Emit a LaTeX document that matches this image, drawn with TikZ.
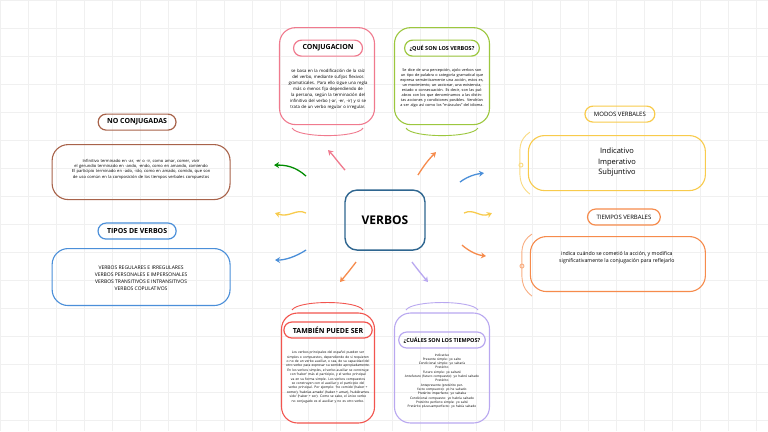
\documentclass[tikz,border=0pt]{standalone}
\usepackage{fontspec}
\setmainfont{Open Sans}
\usetikzlibrary{arrows.meta}
\definecolor{cpink}{HTML}{F07A8E}
\definecolor{cgreen}{HTML}{9CC73E}
\definecolor{cred}{HTML}{F2554F}
\definecolor{cpurp}{HTML}{B9A8F0}
\definecolor{cbrown}{HTML}{A8634A}
\definecolor{cblue}{HTML}{4B8FD9}
\definecolor{cyel}{HTML}{F8CB4C}
\definecolor{corg}{HTML}{F68B4C}
\definecolor{cnavy}{HTML}{2F6690}
\begin{document}
\begin{tikzpicture}[x=1pt,y=-1pt,
  card/.style={draw,line width=1.1pt,rounded corners=16pt,minimum width=#1,align=center},
  pill/.style={draw,line width=1.2pt,rounded corners=8pt,minimum height=16pt,font=\bfseries\fontsize{7}{8}\selectfont,inner xsep=9pt,inner ysep=2pt},
  tiny/.style={font=\fontsize{3.6}{4.6}\selectfont,align=center},
  small/.style={font=\fontsize{5.2}{7}\selectfont,align=center},
  arr/.style={line width=1.3pt,-{Stealth[length=5pt,width=6pt]}},
  brk/.style={line width=0.9pt}]
\fill[white] (0,0) rectangle (768,431);
\foreach \x in {0,28,...,768} \draw[black!6,line width=0.3pt] (\x,0)--(\x,431);
\foreach \y in {0,28,...,431} \draw[black!6,line width=0.3pt] (0,\y)--(768,\y);
\useasboundingbox (0,0) rectangle (768,431);
% center
\node[draw=cnavy,line width=1.4pt,rounded corners=12pt,minimum width=80pt,minimum height=60pt,font=\bfseries\fontsize{12}{14}\selectfont] (c) at (385,220) {VERBOS};
% top boxes
\node[card=95pt,draw=cpink,minimum height=97pt] (conj) at (327,76) {};
\node[pill,draw=cpink] (conjt) at (328,48) {CONJUGACION};
\node[tiny,text width=80pt,font=\fontsize{4.3}{6}\selectfont] (conjb) at (328,89) {se basa en la modificación de la raíz del verbo, mediante sufijos flexivos gramaticales. Para ello sigue una regla más o menos fija dependiendo de la persona, según la terminación del infinitivo del verbo (-ar, -er, -ir) y si se trata de un verbo regular o irregular.};
\node[card=95pt,draw=cgreen,minimum height=97pt] (que) at (442,76) {};
\node[pill,draw=cgreen,font=\bfseries\fontsize{5.5}{6.5}\selectfont,inner xsep=5pt] (quet) at (442,48) {¿QUÉ SON LOS VERBOS?};
\node[tiny,text width=84pt,font=\fontsize{3.8}{5}\selectfont] (queb) at (442,88) {Se dice de una percepción, ajolo verbos son un tipo de palabra o categoría gramatical que expresa semánticamente una acción, estos es, un movimiento, un accionar, una existencia, estado o consecuación. Es decir, son las palabras con los que denominamos a las distintas acciones y condiciones posibles. Vendrían a ser algo así como los "músculos" del idioma.};
\draw[brk,cpink] (292,128) .. controls (298,138) and (357,138) .. (363,128);
\draw[brk,cgreen] (406,128) .. controls (412,138) and (472,138) .. (478,128);
% bottom boxes
\node[card=93pt,draw=cred,minimum height=110pt] (tamb) at (328,368) {};
\node[pill,draw=cred] (tambt) at (328,330) {TAMBIÉN PUEDE SER};
\node[tiny,text width=84pt,font=\fontsize{3.3}{4.4}\selectfont] (tambb) at (328,377) {Los verbos principales del español pueden ser simples o compuestos, dependiendo de si requieren o no de un verbo auxiliar, o sea, de su capacidad del otro verbo para expresar su sentido apropiadamente. En los verbos simples, el verbo auxiliar se construye con 'haber' más el participio, y el verbo principal va en su forma simple. Los verbos compuestos se construyen con el auxiliar y el participio del verbo principal. Por ejemplo: 'he comido' (haber + comer), 'habrías amado' (haber + amar), 'hubiéramos sido' (haber + ser). Como se sabe, el único verbo no conjugado es el auxiliar y no es otro verbo.};
\node[card=95pt,draw=cpurp,minimum height=110pt] (cual) at (442,368) {};
\node[pill,draw=cpurp,font=\bfseries\fontsize{5.5}{6.5}\selectfont,inner xsep=5pt] (cualt) at (442,340) {¿CUÁLES SON LOS TIEMPOS?};
\node[tiny,text width=88pt,font=\fontsize{3.2}{4.3}\selectfont] (cualb) at (442,381) {Indicativo\\Presente simple: yo salto\\Condicional simple: yo saltaría\\Pretérito\\Futuro simple: yo saltaré\\Antefuturo (futuro compuesto): yo habré saltado\\Pretérito\\Antepresente (pretérito perfecto compuesto): yo he saltado\\Pretérito imperfecto: yo saltaba\\Condicional compuesto: yo habría saltado\\Pretérito perfecto simple: yo salté\\Pretérito pluscuamperfecto: yo había saltado};
\draw[brk,cred] (292,310) .. controls (298,300) and (357,300) .. (363,310);
\draw[brk,cpurp] (406,310) .. controls (412,300) and (472,300) .. (478,310);
% left
\node[pill,draw=cbrown] (noct) at (137,122) {NO CONJUGADAS};
\node[card=178pt,draw=cbrown,minimum height=55pt] (noc) at (141,172) {};
\node[tiny,text width=165pt,font=\fontsize{4.1}{5.4}\selectfont] (nocb) at (141,169) {Infinitivo terminado en -ar, -er o -ir, como amar, comer, vivir\\el gerundio terminado en -ando, -endo, como en amando, comiendo\\El participio terminado en -ado, -ido, como en amado, comido, que son de uso común en la composición de los tiempos verbales compuestos};
\node[pill,draw=cblue] (tipt) at (137,231) {TIPOS DE VERBOS};
\node[card=178pt,draw=cblue,minimum height=57pt] (tip) at (141,277) {};
\node[small,font=\fontsize{5}{6.8}\selectfont] (tipb) at (141,278) {VERBOS REGULARES E IRREGULARES\\VERBOS PERSONALES E IMPERSONALES\\VERBOS TRANSITIVOS E INTRANSITIVOS\\VERBOS COPULATIVOS};
% right
\node[pill,draw=cyel,font=\fontsize{6}{7}\selectfont] (modt) at (620,114) {MODOS VERBALES};
\node[card=177pt,draw=cyel,minimum height=55pt] (mod) at (617,163) {};
\node[align=center,font=\fontsize{7.5}{10.5}\selectfont] (modb) at (617,162) {Indicativo\\Imperativo\\Subjuntivo};
\node[pill,draw=corg,font=\fontsize{6}{7}\selectfont] (temt) at (624,217) {TIEMPOS VERBALES};
\node[card=175pt,draw=corg,minimum height=55pt] (tem) at (618,264) {};
\node[small] (temb) at (617,258) {indica cuándo se cometió la acción, y modifica\\significativamente la conjugación para reflejarlo};
\draw[brk,cyel!70] (530,132) .. controls (518,140) and (520,150) .. (520,160) .. controls (520,175) and (518,185) .. (530,194);
\draw[brk,cyel!70] (521,165) circle (2pt);
\draw[brk,corg!70] (532,234) .. controls (520,242) and (522,252) .. (522,262) .. controls (522,277) and (520,287) .. (532,296);
\draw[brk,corg!70] (522,266) circle (2pt);
% arrows
\coordinate (a1) at (306,176); \coordinate (a2) at (274,165);
\draw[arr,green!55!black] (a1) .. controls (295,166) and (285,165) .. (a2);
\coordinate (b1) at (306,213); \coordinate (b2) at (275,213);
\draw[arr,cyel] (b1) .. controls (296,208) and (290,218) .. (b2);
\coordinate (d1) at (306,250); \coordinate (d2) at (275,260);
\draw[arr,cblue] (d1) .. controls (295,257) and (285,260) .. (d2);
\coordinate (e1) at (345,170); \coordinate (e2) at (328,150);
\draw[arr,cpink] (e1) .. controls (338,162) and (333,155) .. (e2);
\coordinate (f1) at (418,175); \coordinate (f2) at (436,152);
\draw[arr,corg] (f1) .. controls (424,165) and (430,158) .. (f2);
\coordinate (g1) at (460,182); \coordinate (g2) at (484,173);
\draw[arr,cblue] (g1) .. controls (468,176) and (476,174) .. (g2);
\coordinate (h1) at (464,213); \coordinate (h2) at (492,213);
\draw[arr,cyel] (h1) .. controls (474,208) and (480,218) .. (h2);
\coordinate (i1) at (462,245); \coordinate (i2) at (486,256);
\draw[arr,corg] (i1) .. controls (470,252) and (478,255) .. (i2);
\coordinate (j1) at (356,262); \coordinate (j2) at (340,282);
\draw[arr,corg] (j1) .. controls (350,270) and (345,276) .. (j2);
\coordinate (k1) at (412,262); \coordinate (k2) at (428,282);
\draw[arr,cpurp] (k1) .. controls (418,270) and (423,276) .. (k2);
\end{tikzpicture}
\end{document}
